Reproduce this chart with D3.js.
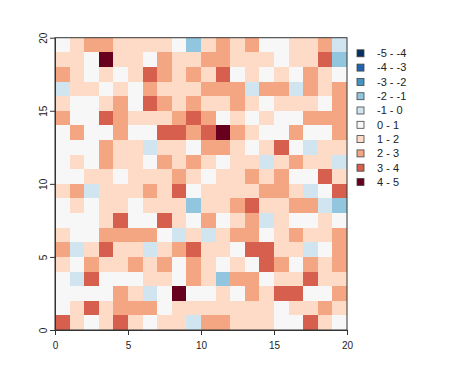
<!DOCTYPE html>
<html>
<head>
<meta charset="utf-8">
<script src="https://cdn.jsdelivr.net/npm/d3@7"></script>
<style>
  body { margin: 0; background: #fff; }
  text { font-family: "Liberation Sans", Arial, sans-serif; }
</style>
</head>
<body>
<div id="raster"></div>
<script>
// cell values (class mid points), rows listed from top (y 19-20) to bottom (y 0-1)
var row19 = [0.5,1.5,2.5,2.5,1.5,1.5,1.5,1.5,0.5,-1.5,1.5,2.5,1.5,2.5,0.5,0.5,1.5,1.5,2.5,-0.5];
var row18 = [1.5,1.5,0.5,4.5,1.5,1.5,0.5,2.5,1.5,1.5,2.5,2.5,1.5,1.5,1.5,0.5,1.5,1.5,3.5,-1.5];
var row17 = [2.5,1.5,0.5,1.5,0.5,1.5,3.5,2.5,1.5,2.5,1.5,3.5,0.5,1.5,0.5,1.5,0.5,2.5,1.5,0.5];
var row16 = [-0.5,1.5,1.5,0.5,1.5,0.5,2.5,1.5,1.5,1.5,2.5,2.5,2.5,-0.5,2.5,2.5,-0.5,2.5,1.5,2.5];
var row15 = [1.5,0.5,0.5,1.5,2.5,0.5,3.5,2.5,1.5,2.5,1.5,1.5,2.5,1.5,0.5,1.5,1.5,1.5,0.5,2.5];
var row14 = [2.5,0.5,0.5,3.5,2.5,1.5,1.5,1.5,2.5,3.5,2.5,0.5,1.5,0.5,1.5,0.5,0.5,2.5,2.5,2.5];
var row13 = [0.5,2.5,0.5,0.5,2.5,0.5,0.5,3.5,3.5,2.5,3.5,4.5,2.5,1.5,0.5,0.5,2.5,0.5,0.5,2.5];
var row12 = [0.5,0.5,0.5,2.5,1.5,1.5,-0.5,1.5,1.5,0.5,2.5,2.5,1.5,0.5,1.5,3.5,0.5,-0.5,1.5,1.5];
var row11 = [0.5,1.5,0.5,2.5,1.5,1.5,0.5,2.5,1.5,2.5,1.5,0.5,1.5,1.5,-0.5,1.5,2.5,1.5,1.5,-0.5];
var row10 = [0.5,0.5,1.5,1.5,0.5,1.5,1.5,1.5,2.5,1.5,0.5,1.5,1.5,2.5,1.5,2.5,0.5,0.5,3.5,1.5];
var row9  = [1.5,2.5,-0.5,1.5,1.5,1.5,2.5,1.5,3.5,0.5,1.5,1.5,1.5,1.5,2.5,2.5,1.5,-0.5,0.5,3.5];
var row8  = [0.5,1.5,0.5,1.5,1.5,0.5,1.5,1.5,1.5,-1.5,1.5,1.5,2.5,3.5,1.5,1.5,2.5,2.5,-0.5,-1.5];
var row7  = [0.5,0.5,0.5,1.5,3.5,0.5,0.5,3.5,1.5,0.5,2.5,0.5,1.5,2.5,-0.5,1.5,0.5,0.5,1.5,0.5];
var row6  = [1.5,0.5,0.5,2.5,2.5,2.5,2.5,0.5,-0.5,1.5,-0.5,1.5,2.5,2.5,0.5,1.5,2.5,1.5,1.5,2.5];
var row5  = [2.5,-0.5,1.5,3.5,1.5,1.5,-0.5,1.5,2.5,3.5,1.5,1.5,0.5,3.5,3.5,1.5,1.5,-0.5,0.5,2.5];
var row4  = [1.5,0.5,2.5,1.5,1.5,2.5,1.5,2.5,0.5,2.5,1.5,0.5,1.5,0.5,3.5,2.5,0.5,2.5,1.5,2.5];
var row3  = [0.5,-0.5,3.5,0.5,0.5,0.5,1.5,1.5,0.5,2.5,1.5,-1.5,2.5,2.5,0.5,1.5,1.5,3.5,1.5,1.5];
var row2  = [0.5,0.5,0.5,0.5,2.5,1.5,-0.5,0.5,4.5,0.5,0.5,1.5,0.5,2.5,1.5,3.5,3.5,0.5,0.5,2.5];
var row1  = [0.5,1.5,3.5,1.5,2.5,2.5,2.5,0.5,1.5,1.5,1.5,1.5,1.5,1.5,1.5,0.5,1.5,1.5,2.5,1.5];
var row0  = [3.5,1.5,0.5,1.5,3.5,1.5,0.5,1.5,1.5,-0.5,2.5,2.5,1.5,1.5,1.5,0.5,0.5,3.5,1.5,0.5];

var rows = [row19,row18,row17,row16,row15,row14,row13,row12,row11,row10,
            row9,row8,row7,row6,row5,row4,row3,row2,row1,row0];

// legend classes and colours
var breaks = [-4,-3,-2,-1,0,1,2,3,4];
var classLabels = ["-5 - -4","-4 - -3","-3 - -2","-2 - -1","-1 - 0","0 - 1","1 - 2","2 - 3","3 - 4","4 - 5"];
var classColors = ["#053061","#2166ac","#4393c3","#92c5de","#d1e5f0","#f7f7f7","#fddbc7","#f4a582","#d6604d","#67001f"];
var xTicks = [0,5,10,15,20];
var yTicks = [0,5,10,15,20];

var W = 474, H = 386;
var svg = d3.select("#raster").append("svg")
    .attr("width", W).attr("height", H);

var x = d3.scaleLinear().domain([0, 20]).range([55, 347]);
var y = d3.scaleLinear().domain([0, 20]).range([330, 37.7]);

var color = d3.scaleThreshold().domain(breaks).range(classColors);

// flatten into cells
var cells = [];
rows.forEach(function(r, i) {
    var yy = 19 - i;
    r.forEach(function(v, j) { cells.push({x: j, y: yy, v: v}); });
});

svg.append("g").selectAll("rect")
    .data(cells).enter().append("rect")
    .attr("x", function(d) { return x(d.x); })
    .attr("y", function(d) { return y(d.y + 1); })
    .attr("width", x(1) - x(0) + 0.3)
    .attr("height", y(0) - y(1) + 0.3)
    .attr("fill", function(d) { return color(d.v); })
    .attr("shape-rendering", "crispEdges");

// box round the raster
svg.append("rect")
    .attr("x", x(0)).attr("y", y(20))
    .attr("width", x(20) - x(0)).attr("height", y(0) - y(20))
    .attr("fill", "none").attr("stroke", "#333").attr("stroke-width", 1);

// axes
var gx = svg.append("g")
    .attr("transform", "translate(0," + y(0) + ")")
    .call(d3.axisBottom(x).tickValues(xTicks).tickSize(5).tickSizeOuter(0));
gx.select(".domain").attr("stroke", "#333");
gx.selectAll(".tick line").attr("stroke", "#333");
gx.selectAll(".tick text").attr("y", 12).attr("font-size", "10px").attr("fill", "#222");

var gy = svg.append("g")
    .attr("transform", "translate(" + x(0) + ",0)")
    .call(d3.axisLeft(y).tickValues(yTicks).tickSize(5).tickSizeOuter(0));
gy.select(".domain").attr("stroke", "#333");
gy.selectAll(".tick line").attr("stroke", "#333");
gy.selectAll(".tick text")
    .attr("transform", "rotate(-90)")
    .attr("text-anchor", "middle")
    .attr("x", 0).attr("y", -12).attr("dy", "0.35em")
    .attr("font-size", "10px").attr("fill", "#222");

// legend
var legend = svg.append("g").selectAll("g")
    .data(classLabels).enter().append("g")
    .attr("transform", function(d, i) { return "translate(357," + (53.3 + i * 14.3) + ")"; });

legend.append("rect")
    .attr("x", 0).attr("y", -3.5)
    .attr("width", 7).attr("height", 7)
    .attr("fill", function(d, i) { return classColors[i]; })
    .attr("stroke", "#444").attr("stroke-width", 0.8);

legend.append("text")
    .attr("x", 20).attr("dy", "0.35em")
    .attr("font-size", "11px").attr("fill", "#222")
    .text(function(d) { return d; });
</script>
</body>
</html>
